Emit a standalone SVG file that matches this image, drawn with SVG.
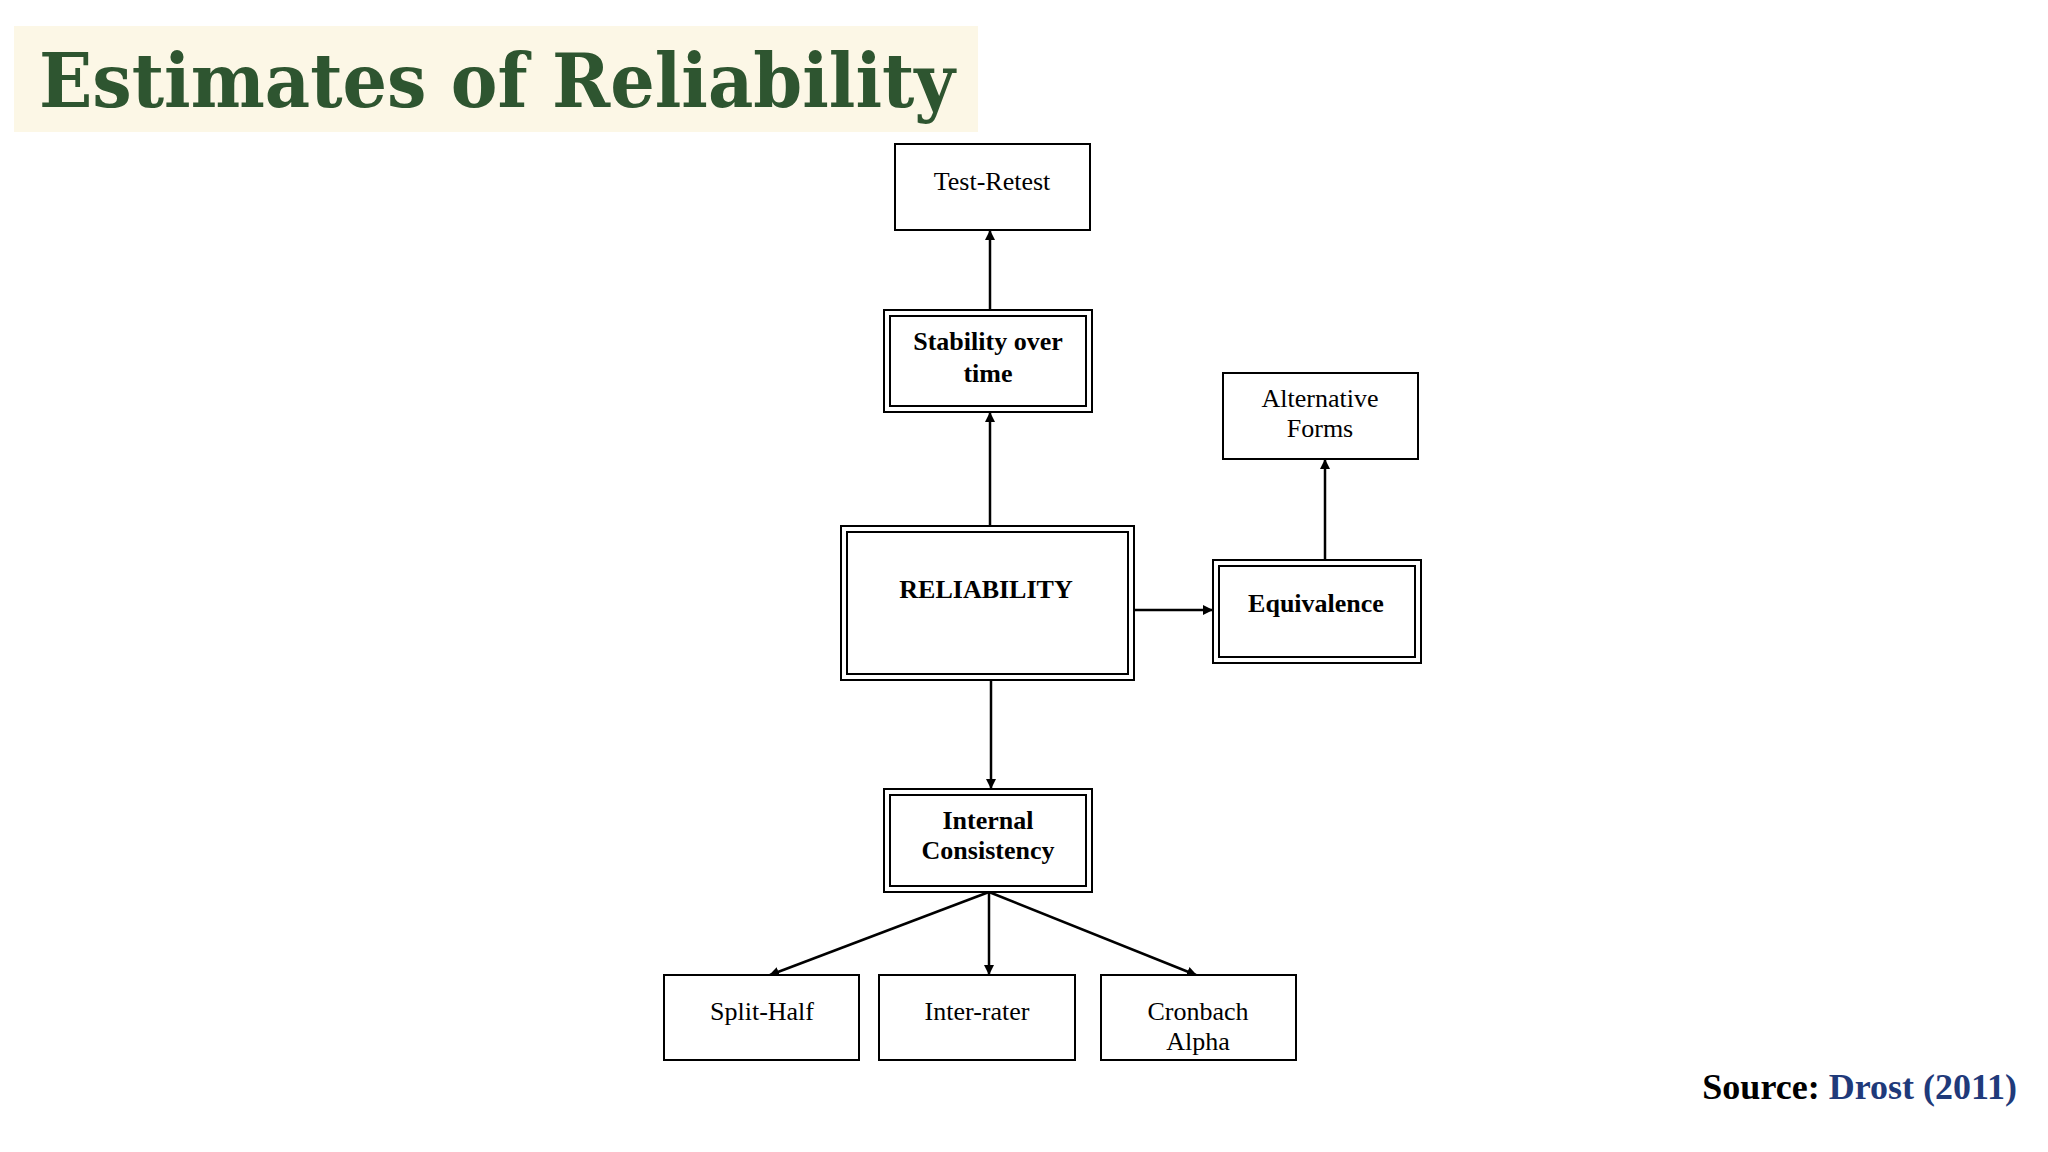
<svg xmlns="http://www.w3.org/2000/svg" width="2048" height="1152" viewBox="0 0 2048 1152">
<style>
.b{fill:#fff;stroke:#000;stroke-width:2}
.t{font-family:"Liberation Serif",serif;font-size:26px;text-anchor:middle;fill:#000}
.bt{font-family:"Liberation Serif",serif;font-size:26px;font-weight:bold;text-anchor:middle;fill:#000}
.c{stroke:#000;stroke-width:2.5;fill:none;marker-end:url(#a)}
</style>
<defs><marker id="a" markerWidth="10" markerHeight="10" refX="9" refY="5" orient="auto" markerUnits="userSpaceOnUse"><path d="M0,0 L10,5 L0,10 z" fill="#000"/></marker></defs>
<rect width="2048" height="1152" fill="#fff"/>
<g id="title"><rect x="14" y="26" width="964" height="106" fill="#fcf7e6"/>
<text x="39" y="107" font-family="DejaVu Serif,serif" font-weight="bold" font-size="74" fill="#2e5530" textLength="916" lengthAdjust="spacingAndGlyphs">Estimates of Reliability</text></g>
<g id="connectors">
<line class="c" x1="990" y1="310" x2="990" y2="231"/>
<line class="c" x1="990" y1="525" x2="990" y2="413"/>
<line class="c" x1="1135" y1="610" x2="1212" y2="610"/>
<line class="c" x1="1325" y1="560" x2="1325" y2="460"/>
<line class="c" x1="991" y1="681" x2="991" y2="788"/>
<line class="c" x1="989" y1="892" x2="770" y2="975"/>
<line class="c" x1="989" y1="892" x2="989" y2="974"/>
<line class="c" x1="989" y1="892" x2="1196" y2="975"/>
</g>
<g id="test-retest"><rect class="b" x="895" y="144" width="195" height="86"/><text class="t" x="992" y="190">Test-Retest</text></g>
<g id="stability"><rect class="b" x="884" y="310" width="208" height="102"/><rect class="b" x="890" y="316" width="196" height="90" stroke-width="3"/><text class="bt" x="988" y="350">Stability over</text><text class="bt" x="988" y="382">time</text></g>
<g id="alternative"><rect class="b" x="1223" y="373" width="195" height="86"/><text class="t" x="1320" y="407">Alternative</text><text class="t" x="1320" y="437">Forms</text></g>
<g id="reliability"><rect class="b" x="841" y="526" width="293" height="154" stroke-width="4"/><rect class="b" x="847" y="532" width="281" height="142" stroke-width="1.5"/><text class="bt" x="986" y="598">RELIABILITY</text></g>
<g id="equivalence"><rect class="b" x="1213" y="560" width="208" height="103"/><rect class="b" x="1219" y="566" width="196" height="91" stroke-width="3"/><text class="bt" x="1316" y="612">Equivalence</text></g>
<g id="internal"><rect class="b" x="884" y="789" width="208" height="103"/><rect class="b" x="890" y="795" width="196" height="91" stroke-width="3"/><text class="bt" x="988" y="829">Internal</text><text class="bt" x="988" y="859">Consistency</text></g>
<g id="split-half"><rect class="b" x="664" y="975" width="195" height="85"/><text class="t" x="762" y="1020">Split-Half</text></g>
<g id="inter-rater"><rect class="b" x="879" y="975" width="196" height="85"/><text class="t" x="977" y="1020">Inter-rater</text></g>
<g id="cronbach"><rect class="b" x="1101" y="975" width="195" height="85"/><text class="t" x="1198" y="1020">Cronbach</text><text class="t" x="1198" y="1050">Alpha</text></g>
<text x="2017" y="1099" text-anchor="end" font-family="Liberation Serif,serif" font-size="36" font-weight="bold" fill="#000">Source: <tspan fill="#1f3a7a">Drost (2011)</tspan></text>
</svg>
